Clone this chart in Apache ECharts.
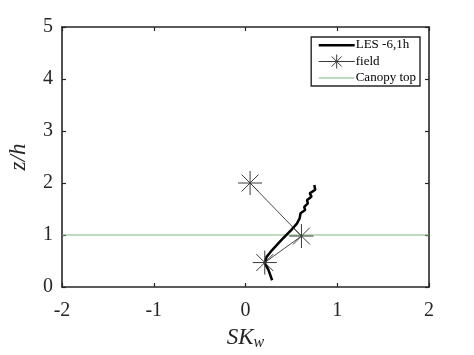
<!DOCTYPE html>
<html><head><meta charset="utf-8">
<script src="https://cdn.jsdelivr.net/npm/echarts@6/dist/echarts.min.js"></script>
<style>html,body{margin:0;padding:0;background:#fff}#c{width:474px;height:355px}</style>
</head><body><div id="c"></div>
<script>
const lesX = [0.29,0.25,0.21,0.23,0.29,0.39,0.50,0.56,0.59,0.60,0.65,0.64,0.68,0.67,0.72,0.70,0.76,0.75];
const lesZ = [0.13,0.33,0.46,0.58,0.71,0.90,1.10,1.22,1.32,1.42,1.48,1.54,1.61,1.67,1.74,1.80,1.87,1.96];
const fieldX = [0.05,0.61,0.21];
const fieldZ = [2.00,0.98,0.47];
const canopyX = [-2,2];
const canopyZ = [1,1];
const xTicks = [-2,-1,0,1,2];
const yTicks = [0,1,2,3,4,5];

const star = 'path://M12 0L12 24M0 12L24 12M3.5 3.5L20.5 20.5M20.5 3.5L3.5 20.5';
const lineIcon = 'path://M0 0L0 0.01M0 6H36V8.4H0ZM36 14L36 14.01';
const thinIcon = 'path://M0 0L0 0.01M0 6.6H36V7.6H0ZM36 14L36 14.01';
const starIcon = 'path://M0 7H36M18 0V14M13 2L23 12M23 2L13 12';
const font = 'Liberation Serif';
const zip = (a,b)=>a.map((v,i)=>[v,b[i]]);

const chart = echarts.init(document.getElementById('c'));
const axBase = {
  axisLine:{show:true,onZero:false,lineStyle:{color:'#262626',width:1.6}},
  axisTick:{show:true,inside:true,length:4,lineStyle:{color:'#262626',width:1.2}},
  splitLine:{show:false}
};
chart.setOption({
  animation:false,
  grid:{left:62,right:45,top:27,bottom:68,containLabel:false,outerBoundsMode:'none'},
  xAxis:[
    Object.assign({type:'value',min:xTicks[0],max:xTicks[xTicks.length-1],interval:1,position:'bottom',
      axisLabel:{color:'#262626',fontFamily:font,fontSize:20,margin:14,formatter:v=>String(v)},
      name:'{i|SK}{s|w}',nameLocation:'middle',nameGap:38,
      nameTextStyle:{rich:{i:{fontFamily:font,fontStyle:'italic',fontSize:23,color:'#262626'},
                          s:{fontFamily:font,fontStyle:'italic',fontSize:16,color:'#262626',verticalAlign:'bottom',padding:[10,0,0,0]}}}},axBase),
    Object.assign({type:'value',min:-2,max:2,interval:1,position:'top',axisLabel:{show:false}},axBase)
  ],
  yAxis:[
    Object.assign({type:'value',min:yTicks[0],max:yTicks[yTicks.length-1],interval:1,position:'left',
      axisLabel:{color:'#262626',fontFamily:font,fontSize:20,margin:9},
      name:'z/h',nameLocation:'middle',nameGap:32,
      nameTextStyle:{fontFamily:font,fontStyle:'italic',fontSize:23,color:'#262626'}},axBase),
    Object.assign({type:'value',min:0,max:5,interval:1,position:'right',axisLabel:{show:false}},axBase)
  ],
  legend:{
    orient:'vertical',right:54,top:37,
    backgroundColor:'#fff',borderColor:'#262626',borderWidth:1.4,borderRadius:0,
    padding:[1,4,1,5],itemGap:0,itemWidth:36,itemHeight:14,
    textStyle:{fontFamily:font,fontSize:13,color:'#000',padding:[0,0,0,-4]},
    data:[
      {name:'LES -6,1h',icon:lineIcon},
      {name:'field',icon:starIcon,itemStyle:{color:'none',borderColor:'#3a3a3a',borderWidth:1}},
      {name:'Canopy top',icon:thinIcon}
    ]
  },
  series:[
    {name:'Canopy top',type:'line',data:zip(canopyX,canopyZ),showSymbol:false,symbol:'none',
      lineStyle:{color:'#80b880',width:1},itemStyle:{color:'#80b880'}},
    {name:'field',type:'line',data:zip(fieldX,fieldZ),symbol:star,symbolSize:24,
      lineStyle:{color:'#4a4a4a',width:1},
      itemStyle:{color:'none',borderColor:'#3a3a3a',borderWidth:1}},
    {name:'LES -6,1h',type:'line',data:zip(lesX,lesZ),symbol:'none',
      lineStyle:{color:'#000',width:2.5},itemStyle:{color:'#000'}}
  ]
});
</script></body></html>
